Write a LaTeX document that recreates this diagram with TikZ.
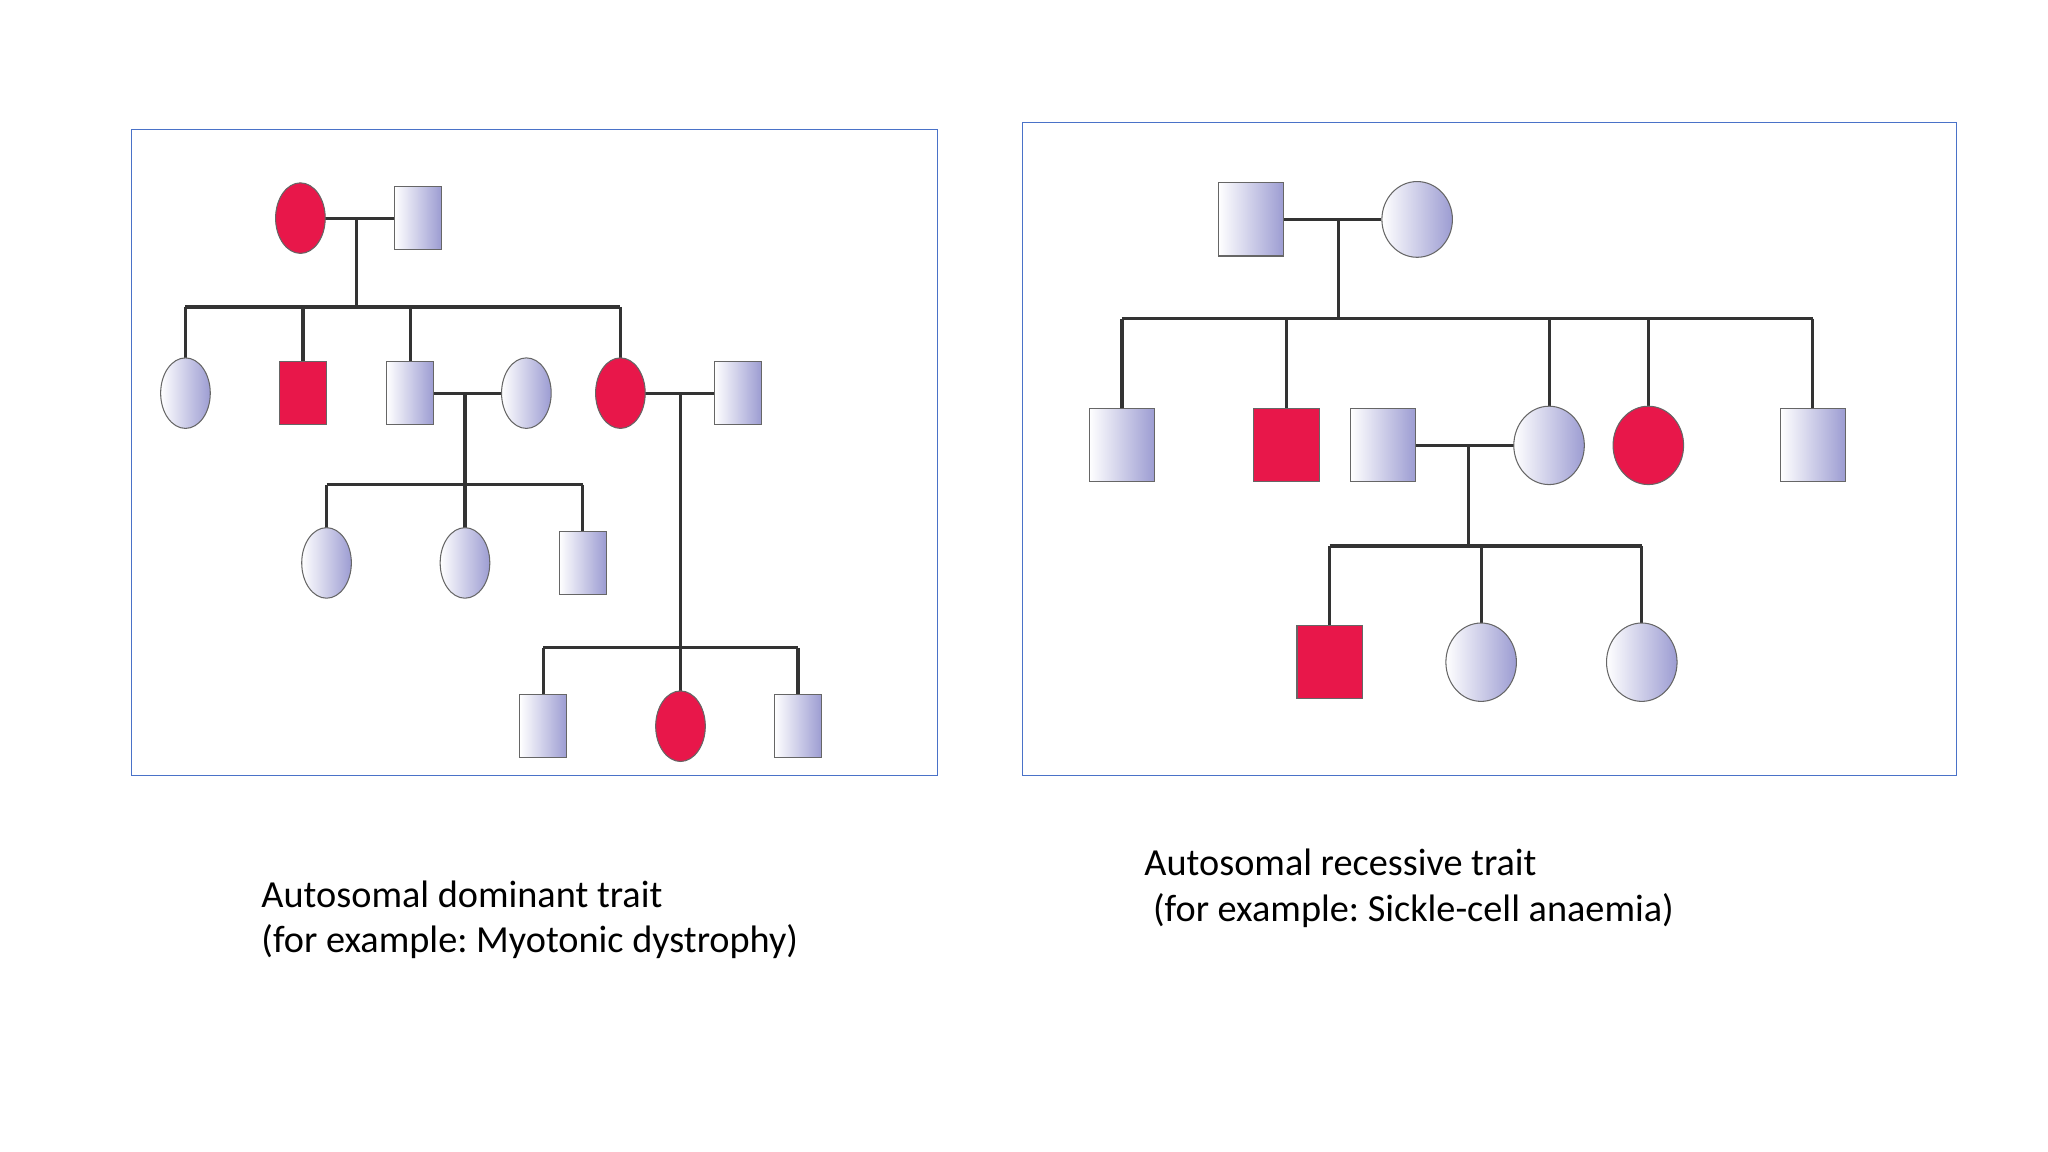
\documentclass[tikz,border=0pt]{standalone}
\usepackage{fontspec}
\setmainfont{Carlito}
\frenchspacing
\usetikzlibrary{shapes.geometric}
\definecolor{lav}{HTML}{9C9CD2}
\definecolor{aff}{HTML}{E8174A}
\definecolor{frame}{HTML}{4A72C8}
\begin{document}
\begin{tikzpicture}[x=1pt,y=-1pt,
  ln/.style={line width=2.4pt,draw=black!80},
  sqL/.style={draw=gray!80!black,line width=0.8pt,minimum width=36pt,minimum height=48pt,inner sep=0pt,left color=white,right color=lav},
  elL/.style={ellipse,draw=gray!80!black,line width=0.8pt,minimum width=38pt,minimum height=54pt,inner sep=0pt,left color=white,right color=lav},
  sqR/.style={sqL,minimum width=50pt,minimum height=56pt},
  elR/.style={elL,minimum width=54pt,minimum height=60pt},
  red/.style={fill=aff,left color=aff,right color=aff},
  lbl/.style={anchor=north west,align=left,inner sep=0pt,font=\fontsize{29.3}{35}\selectfont}]
\useasboundingbox (0,0) rectangle (1568,882);
\draw[frame,line width=0.8pt] (101,99) rectangle (718,594);
\draw[frame,line width=0.8pt] (783,94) rectangle (1498,594);
% left
\coordinate (a1) at (273,167); \coordinate (a1b) at (273,235);
\coordinate (s1l) at (142,235); \coordinate (s1r) at (475,235);
\foreach \x in {142,232,314,475}{\draw[ln] (\x,235) -- (\x,280);}
\draw[ln] (249,167) -- (302,167);
\draw[ln] (a1) -- (a1b);
\draw[ln] (s1l) -- (s1r);
\draw[ln] (332,301) -- (385,301);
\draw[ln] (494,301) -- (547,301);
\draw[ln] (356,301) -- (356,371);
\draw[ln] (250,371) -- (446,371);
\foreach \x in {250,356,446}{\draw[ln] (\x,371) -- (\x,410);}
\draw[ln] (521,301) -- (521,496);
\draw[ln] (416,496) -- (611,496);
\foreach \x in {416,521,611}{\draw[ln] (\x,496) -- (\x,535);}
\node[elL,red] (l1) at (230,167) {};
\node[sqL] (l2) at (320,167) {};
\node[elL] (l3) at (142,301) {};
\node[sqL,red] (l4) at (232,301) {};
\node[sqL] (l5) at (314,301) {};
\node[elL] (l6) at (403,301) {};
\node[elL,red] (l7) at (475,301) {};
\node[sqL] (l8) at (565,301) {};
\node[elL] (l9) at (250,431) {};
\node[elL] (l10) at (356,431) {};
\node[sqL] (l11) at (446,431) {};
\node[sqL] (l12) at (416,556) {};
\node[elL,red] (l13) at (521,556) {};
\node[sqL] (l14) at (611,556) {};
% right
\draw[ln] (983,168) -- (1057,168);
\draw[ln] (1025,168) -- (1025,244);
\draw[ln] (859,244) -- (1388,244);
\foreach \x in {859,985,1186,1262,1388}{\draw[ln] (\x,244) -- (\x,315);}
\draw[ln] (1084,341) -- (1159,341);
\draw[ln] (1124,341) -- (1124,418);
\draw[ln] (1018,418) -- (1257,418);
\foreach \x in {1018,1134,1257}{\draw[ln] (\x,418) -- (\x,480);}
\node[sqR] (r1) at (958,168) {};
\node[elR,minimum height=58pt] (r2) at (1085,168) {};
\node[sqR] (r3) at (859,341) {};
\node[sqR,red] (r4) at (985,341) {};
\node[sqR] (r5) at (1059,341) {};
\node[elR] (r6) at (1186,341) {};
\node[elR,red] (r7) at (1262,341) {};
\node[sqR] (r8) at (1388,341) {};
\node[sqR,red] (r9) at (1018,507) {};
\node[elR] (r10) at (1134,507) {};
\node[elR] (r11) at (1257,507) {};
\node[lbl] (t1) at (200,674) {Autosomal dominant trait\\(for example: Myotonic dystrophy)};
\node[lbl] (t2) at (876,650) {Autosomal recessive trait\\\ (for example: Sickle-cell anaemia)};
\end{tikzpicture}
\end{document}
